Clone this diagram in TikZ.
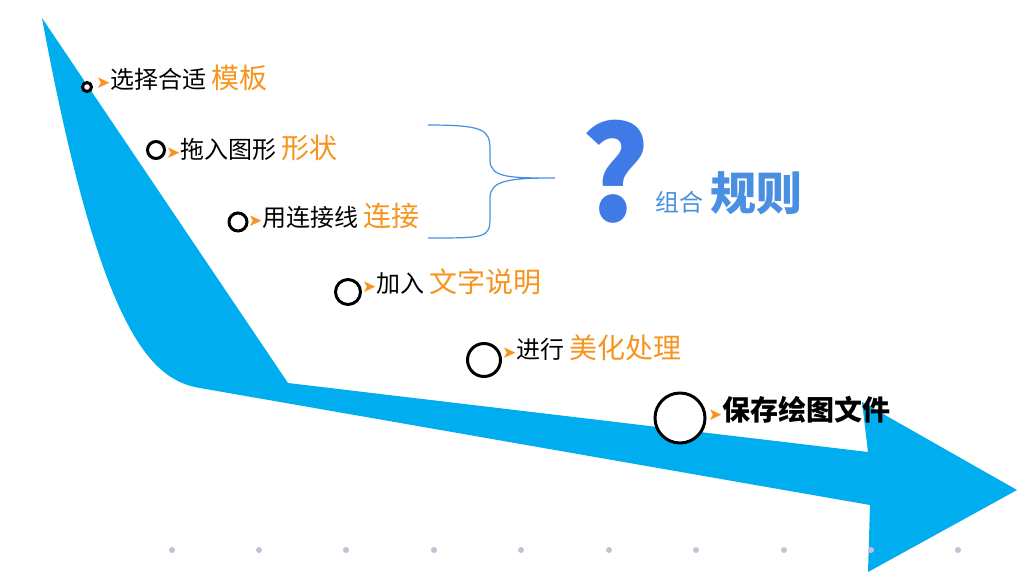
\documentclass[tikz,border=0pt]{standalone}
\usepackage{fontspec}
\setmainfont{Noto Sans CJK SC}
\newfontfamily\dvs{DejaVu Sans}
\definecolor{arrblue}{HTML}{00AEEF}
\definecolor{org}{HTML}{F7941D}
\definecolor{qblue}{HTML}{4A90E2}
\begin{document}
\begin{tikzpicture}[x=1pt,y=-1pt,
  ring/.style={circle,draw=black,fill=white,line width=3pt,inner sep=0pt},
  lbl/.style={anchor=west,font=\fontsize{24}{28}\selectfont,inner sep=0pt},
  dot/.style={circle,fill=blue!20!gray!40,inner sep=0pt,minimum size=6pt}]
\useasboundingbox (0,0) rectangle (1025,574);
\fill[white] (0,0) rectangle (1025,574);
\fill[arrblue] (42,18) -- (288,383) -- (868,452) -- (862,402) -- (1017,490) -- (868,572) -- (870,505)
  -- (200,388) .. controls (150,380) and (100,330) .. (42,18) -- cycle;
\foreach \x [count=\i] in {172,259,346,434,521,609,696,784,871,958}
  \node[dot] (d\i) at (\x,550) {};
\node[ring,minimum size=9pt] (c1) at (87,87) {};
\node[ring,minimum size=17pt] (c2) at (156,150) {};
\node[ring,minimum size=18pt] (c3) at (238,222) {};
\node[ring,minimum size=25pt] (c4) at (348,292) {};
\node[ring,minimum size=33pt] (c5) at (484,360) {};
\node[ring,minimum size=50pt] (c6) at (680,418) {};
\newcommand{\ar}{{\dvs\color{org}\fontsize{17}{17}\selectfont ➤}}
\newcommand{\og}[1]{\textcolor{org}{\fontsize{28}{30}\selectfont #1}}
\node[lbl] (t1) at (96,78) {\ar 选择合适 \og{模板}};
\node[lbl] (t2) at (166,148) {\ar 拖入图形 \og{形状}};
\node[lbl] (t3) at (248,216) {\ar 用连接线 \og{连接}};
\node[lbl] (t4) at (362,282) {\ar 加入 \og{文字说明}};
\node[lbl] (t5) at (502,348) {\ar 进行 \og{美化处理}};
\node[lbl,font=\fontsize{28}{30}\selectfont\bfseries] (t6) at (708,410) {\ar 保存绘图文件};
\coordinate (b1) at (428,125);
\coordinate (b2) at (555,178);
\coordinate (b3) at (428,238);
\draw[qblue,line width=1.2pt] (b1) .. controls (485,125) and (490,130) .. (490,150)
  -- (490,160) .. controls (490,178) and (510,178) .. (b2)
  (b2) .. controls (510,178) and (490,180) .. (490,198) -- (490,218)
  .. controls (490,238) and (485,238) .. (b3);
\node[font=\fontsize{130}{130}\selectfont\bfseries,text=qblue!85!blue,inner sep=0pt] (q) at (615,172) {?};
\node[anchor=west,inner sep=0pt,text=qblue,font=\fontsize{24}{28}\selectfont] (g) at (655,202) {组合};
\node[anchor=west,inner sep=0pt,text=qblue,font=\fontsize{46}{50}\selectfont\bfseries] (r) at (710,193) {规则};
\end{tikzpicture}
\end{document}
